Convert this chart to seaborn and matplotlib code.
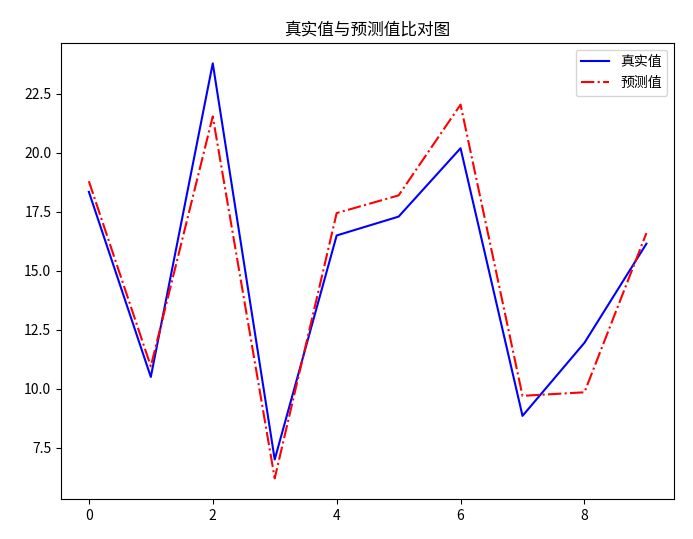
import matplotlib
matplotlib.use("Agg")
import matplotlib.pyplot as plt
import seaborn as sns
import pandas as pd

plt.rcParams['font.family'] = ['Noto Sans CJK SC', 'DejaVu Sans']
plt.rcParams['axes.unicode_minus'] = False

x_idx = list(range(10))
true_vals = [18.35, 10.5, 23.8, 7.0, 16.5, 17.3, 20.2, 8.85, 11.95, 16.15]
pred_vals = [18.8, 10.95, 21.55, 6.2, 17.45, 18.2, 22.05, 9.7, 9.85, 16.6]
labels = ['真实值', '预测值']
title = '真实值与预测值比对图'

fig, ax = plt.subplots(figsize=(6.93, 5.39), dpi=100)
fig.subplots_adjust(left=0.088, right=0.973, top=0.921, bottom=0.074)

df_true = pd.DataFrame({'x': x_idx, 'y': true_vals})
df_pred = pd.DataFrame({'x': x_idx, 'y': pred_vals})
sns.lineplot(data=df_true, x='x', y='y', ax=ax, color='blue', linestyle='-', label=labels[0])
sns.lineplot(data=df_pred, x='x', y='y', ax=ax, color='red', linestyle='-.', label=labels[1])

ax.set_xlabel('')
ax.set_ylabel('')
ax.set_title(title)
ax.legend(loc='upper right')
fig.savefig('out.png', dpi=100)
